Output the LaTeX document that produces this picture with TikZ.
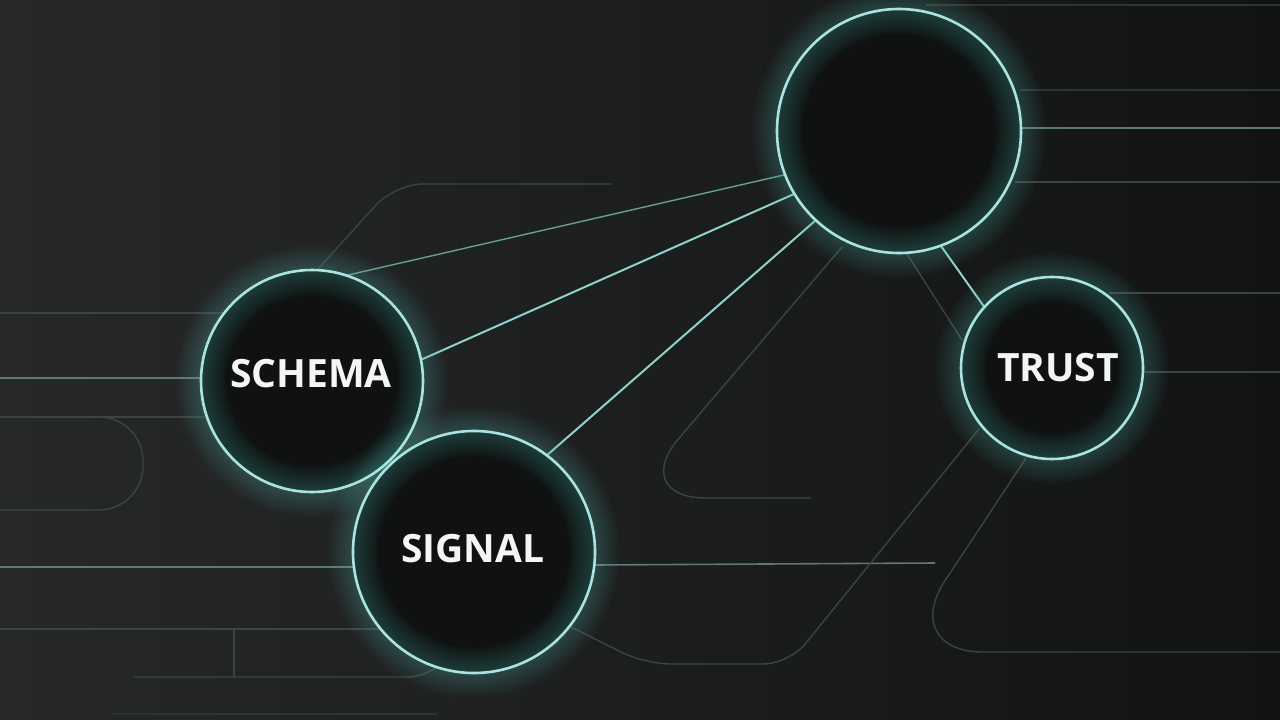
\documentclass[tikz,border=0pt]{standalone}
\usepackage{fontspec}
\setmainfont{Open Sans}
\usetikzlibrary{backgrounds}
\definecolor{bgL}{HTML}{272828}
\definecolor{bgR}{HTML}{121313}
\definecolor{ringc}{HTML}{A9E4DF}
\definecolor{glowc}{HTML}{5FC8C0}
\definecolor{connc}{HTML}{8ED2CB}
\definecolor{brightline}{HTML}{5E7876}
\definecolor{faintline}{HTML}{3C4343}
\definecolor{fainterline}{HTML}{2E3333}
\definecolor{corec}{HTML}{101212}
\definecolor{textc}{HTML}{F4F6F6}
\tikzset{
  orb/.style={circle, draw=ringc, line width=2.6pt, inner sep=0pt, outer sep=0pt},
  word/.style={text=textc, font=\bfseries\fontsize{39}{47}\selectfont, inner sep=0pt},
  link/.style={draw=connc, line width=2pt},
  thinlink/.style={draw=connc!75!black, line width=1.4pt},
  bgbright/.style={draw=brightline, line width=1.6pt},
  bgfaint/.style={draw=faintline, line width=1.4pt},
  bgfainter/.style={draw=fainterline, line width=1.3pt},
}
\begin{document}
\begin{tikzpicture}[x=1pt,y=-1pt]
\useasboundingbox (0,0) rectangle (1280,720);
% circles
\node[orb, minimum size=244] (hub) at (899,131) {};
\node[orb, minimum size=222] (schema) at (312,381) {};
\node[orb, minimum size=242] (signal) at (474,552) {};
\node[orb, minimum size=182] (trust) at (1052,368) {};
% labels
\node[word] (schemaText) at (311,374) {SCHEMA};
\node[word] (signalText) at (473,549) {SIGNAL};
\node[word] (trustText) at (1058,368) {TRUST};

\begin{scope}[on background layer]
  \fill[left color=bgL, right color=bgR] (0,0) rectangle (1280,720);
  % faint background traces
  \draw[bgfaint, rounded corners=28] (318,269) -- (395,184) -- (612,184);
  \draw[bgfaint] (0,313) -- (224,313);
  \draw[bgbright] (0,378) -- (201,378);
  \draw[bgfaint] (0,417) -- (207,417);
  \draw[bgfaint, rounded corners=44] (0,417) -- (143,417) -- (143,510) -- (0,510);
  \draw[bgbright] (0,567) -- (354,567);
  \draw[bgbright] (595,565) -- (935,563);
  \draw[bgfaint] (0,629) -- (381,629);
  \draw[bgfaint] (234,629) -- (234,677);
  \draw[bgfaint, rounded corners=12] (134,677) -- (420,677) -- (437,667);
  \draw[bgfainter] (112,714) -- (437,714);
  \draw[bgfaint, rounded corners=26] (571,627) -- (645,664) -- (789,664) -- (979,429);
  \draw[bgfaint, rounded corners=78] (842,247) -- (628,498) -- (811,498);
  \draw[bgfaint, rounded corners=85] (1026,458) -- (898,652) -- (1280,652);
  \draw[bgfaint] (907,254) -- (962,340);
  \draw[bgfainter] (926,5) -- (1280,5);
  \draw[bgfainter] (1020,90) -- (1280,90);
  \draw[bgbright] (1021,128) -- (1280,128);
  \draw[bgfaint] (1015,182) -- (1280,182);
  \draw[bgfaint] (1109,293) -- (1280,293);
  \draw[bgfaint] (1143,372) -- (1280,372);
  % main connectors
  \draw[thinlink] (schema.72) -- (hub.201);
  \draw[link] (schema.11) -- (hub.211);
  \draw[link] (signal.53) -- (hub.227);
  \draw[link] (trust.138) -- (hub.290);
  % dark cores and glow
  \foreach \n/\r in {hub/122, schema/111, signal/121, trust/91} {
    \fill[corec] (\n.center) circle (\r);
    \foreach \w in {50,46,...,4} {
      \draw[glowc, line width=\w pt, opacity=0.024] (\n.center) circle (\r);
    }
  }
\end{scope}
\end{tikzpicture}
\end{document}
